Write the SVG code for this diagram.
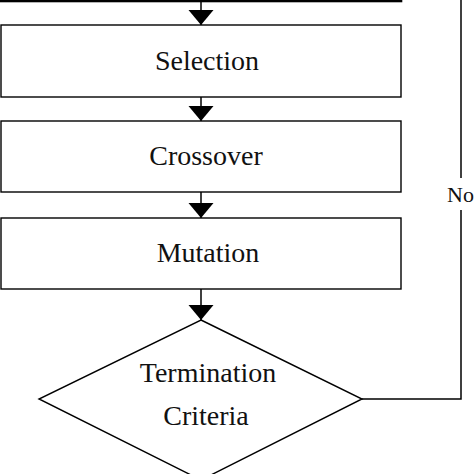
<svg xmlns="http://www.w3.org/2000/svg" width="474" height="474" viewBox="0 0 474 474">
<style>
.box{fill:#fff;stroke:#000;stroke-width:1.4}
.lbl{font-family:"Liberation Serif",serif;font-size:28px;fill:#111;text-anchor:middle}
.con{fill:none;stroke:#000;stroke-width:1.5}
</style>
<defs>
<marker id="ah" markerUnits="userSpaceOnUse" markerWidth="16" markerHeight="26" refX="15" refY="12.5" orient="auto">
<path d="M0,0 L15,12.5 L0,25 Z" fill="#000"/>
</marker>
</defs>
<rect width="474" height="474" fill="#fff"/>
<g id="top-box"><rect class="box" x="1" y="-40" width="400" height="41" style="stroke-width:2.6"/></g>
<g id="selection"><rect class="box" x="1" y="25" width="400" height="72"/><text class="lbl" x="207" y="70">Selection</text></g>
<g id="crossover"><rect class="box" x="1" y="121" width="400" height="71"/><text class="lbl" x="206" y="165">Crossover</text></g>
<g id="mutation"><rect class="box" x="1" y="218" width="400" height="71"/><text class="lbl" x="208" y="262">Mutation</text></g>
<g id="termination"><path class="box" d="M201,320 L362,399 L201,480 L39,399 Z"/><text class="lbl" x="208" y="382">Termination</text><text class="lbl" x="206" y="425">Criteria</text></g>
<g id="connectors">
<line class="con" x1="201" y1="2" x2="201" y2="25" marker-end="url(#ah)"/>
<line class="con" x1="201" y1="97" x2="201" y2="121" marker-end="url(#ah)"/>
<line class="con" x1="201" y1="192" x2="201" y2="218" marker-end="url(#ah)"/>
<line class="con" x1="201" y1="289" x2="201" y2="320" marker-end="url(#ah)"/>
<polyline class="con" points="362,399 461,399 461,210"/>
<line class="con" x1="461" y1="178" x2="461" y2="0"/>
<text x="447" y="202" style="font-family:'Liberation Serif',serif;font-size:22px;fill:#111">No</text>
</g>
</svg>
